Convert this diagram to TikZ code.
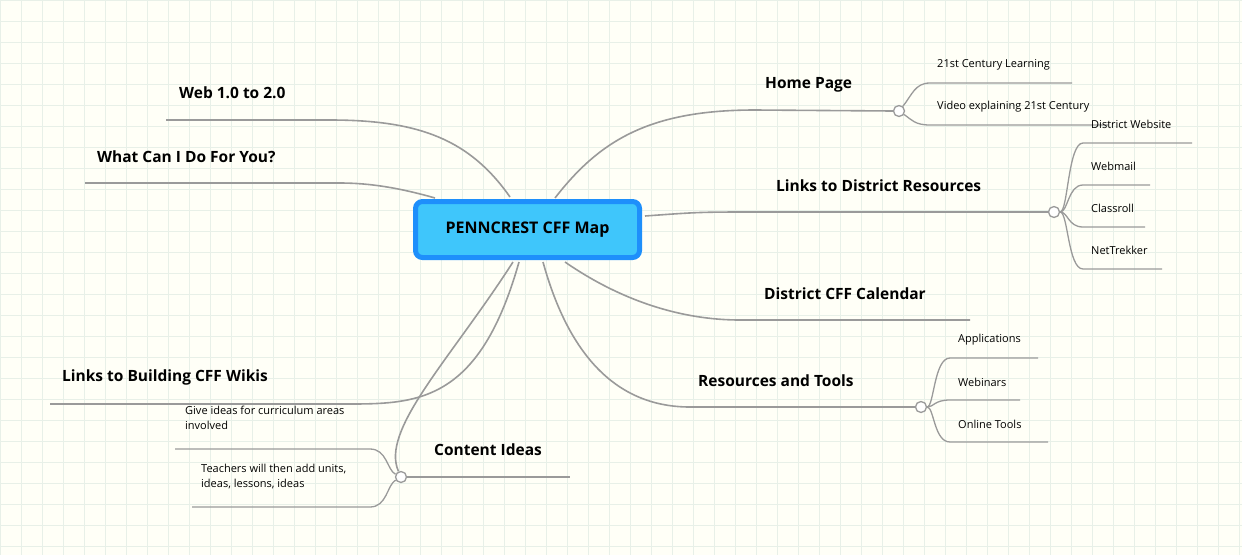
\documentclass[tikz,border=0pt]{standalone}
\usepackage{fontspec}
\setmainfont{Open Sans}
\definecolor{cfill}{HTML}{3FC6FB}
\definecolor{cline}{HTML}{1E8FFB}
\definecolor{ln}{HTML}{9A9A9A}
\begin{document}
\begin{tikzpicture}[x=1pt,y=-1pt,
  br/.style={draw=ln, line width=1.6pt},
  sb/.style={draw=ln, line width=1.3pt},
  hd/.style={font=\fontsize{15.5}{17}\selectfont\bfseries, anchor=west, inner sep=0},
  st/.style={font=\fontsize{11}{15}\selectfont, anchor=west, inner sep=0, align=left},
  knob/.style={circle, draw=ln, fill=white, line width=1.3pt, minimum size=11pt, inner sep=0}]
\fill[white!97!yellow] (0,0) rectangle (1242,555);
\useasboundingbox (0,0) rectangle (1242,555);
\foreach \x in {0,21,...,1242} \draw[green!20!gray!15, line width=0.6pt] (\x,0) -- (\x,555);
\foreach \y in {0,21,...,555} \draw[green!20!gray!15, line width=0.6pt] (0,\y) -- (1242,\y);
% central
\node[draw=cline, line width=5pt, fill=cfill, rounded corners=7pt,
 minimum width=224pt, minimum height=56pt, font=\fontsize{16}{18}\selectfont\bfseries] (c) at (527.5,229.5) {PENNCREST CFF Map};
% anchor coordinates
\coordinate (hpE) at (893,111); \node[knob] (hpK) at (899,111) {};
\coordinate (ldS) at (645,216); \coordinate (ldE) at (1048,212); \node[knob] (ldK) at (1054,212) {};
\coordinate (calE) at (970,320);
\coordinate (rtE) at (915,407); \node[knob] (rtK) at (921,407) {};
\coordinate (ciE) at (570,477); \node[knob] (ciK) at (401,477) {};
\coordinate (wkE) at (50,404);
\coordinate (webE) at (166,120);
\coordinate (whE) at (85,183);
% branches
\draw[br] (555,198) .. controls (600,140) and (650,110) .. (755,110) -- (hpE);
\node[hd] (hp) at (765,85) {Home Page};
\draw[br] (ldS) .. controls (700,212) .. (760,212) -- (ldE);
\node[hd] (ld) at (776,186) {Links to District Resources};
\draw[br] (565,262) .. controls (620,300) and (680,320) .. (740,320) -- (calE);
\node[hd] (cal) at (764,294) {District CFF Calendar};
\draw[br] (543,262) .. controls (570,360) and (620,407) .. (690,407) -- (rtE);
\node[hd] (rt) at (698,381) {Resources and Tools};
\draw[br] (513,262) .. controls (450,360) and (380,430) .. (ciK) ;
\draw[br] (ciK) -- (ciE);
\draw[br] (519,262) .. controls (480,400) and (420,404) .. (350,404) -- (wkE);
\node[hd] (ci) at (434,450) {Content Ideas};
\node[hd] (wk) at (62,377) {Links to Building CFF Wikis};
\draw[br] (510,197) .. controls (470,140) and (420,120) .. (330,120) -- (webE);
\node[hd] (web) at (179,93) {Web 1.0 to 2.0};
\draw[br] (435,198) .. controls (400,188) and (370,183) .. (340,183) -- (whE);
\node[hd] (wh) at (97,157) {What Can I Do For You?};
% home page subs
\draw[sb] (hpK) .. controls (912,95) and (915,83) .. (930,83) -- (1072,83);
\draw[sb] (hpK) .. controls (912,120) and (915,125) .. (930,125) -- (1108,125);
\node[st] (s1) at (937,65) {21st Century Learning};
\node[st] (s2) at (937,107) {Video explaining 21st Century};
% district subs
\foreach \y/\xe/\t [count=\i] in {143/1192/District Website,185/1150/Webmail,227/1145/Classroll,269/1162/NetTrekker}{
  \draw[sb] (ldK) .. controls (1068,212) and (1068,\y) .. (1083,\y) -- (\xe,\y);
  \node[st] (d\i) at (1091,\y-19) {\t};
}
% resources subs
\foreach \y/\xe/\t [count=\i] in {358/1038/Applications,400/1020/Webinars,442/1048/Online Tools}{
  \draw[sb] (rtK) .. controls (934,407) and (934,\y) .. (950,\y) -- (\xe,\y);
  \node[st] (r\i) at (958,\y-18) {\t};
}
% content subs
\draw[sb] (ciK) .. controls (387,470) and (387,449) .. (370,449) -- (175,449);
\draw[sb] (ciK) .. controls (387,485) and (387,507) .. (370,507) -- (192,507);
\node[st, anchor=north west] (c1) at (185,406) {Give ideas for curriculum areas\\involved};
\node[st, anchor=north west] (c2) at (201,464) {Teachers will then add units,\\ideas, lessons, ideas};
\end{tikzpicture}
\end{document}
